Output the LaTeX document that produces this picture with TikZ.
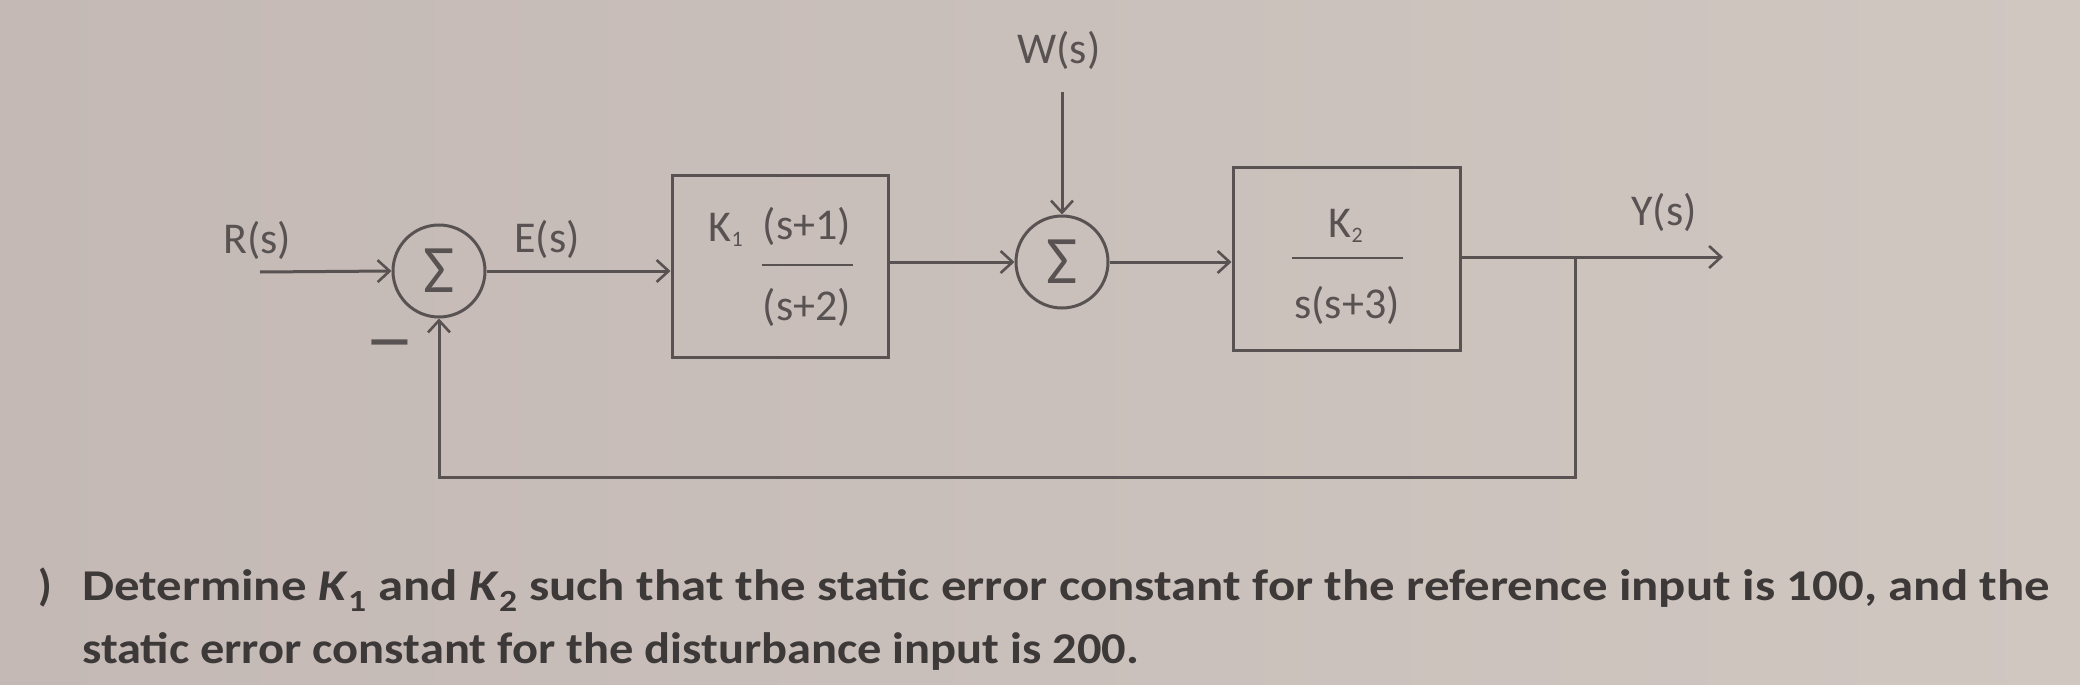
\documentclass[tikz,border=0pt]{standalone}
\usepackage{fontspec}
\usepackage{graphicx}
\setmainfont{Carlito}
\usetikzlibrary{arrows.meta,calc}
\definecolor{bgl}{RGB}{196,185,181}
\definecolor{bgr}{RGB}{208,199,193}
\definecolor{ink}{RGB}{88,83,82}
\definecolor{txt}{RGB}{62,57,57}
\begin{document}
\begin{tikzpicture}[x=1pt,y=-1pt,
  wire/.style={draw=ink,line width=3pt},
  arr/.style={wire,-{Straight Barb[length=12pt,width=22pt,line width=2.6pt]}},
  sumnode/.style={circle,draw=ink,line width=3pt,minimum size=92pt,inner sep=0pt,
     font=\fontsize{68}{70}\selectfont,text=ink},
  blk/.style={rectangle,draw=ink,line width=3pt,inner sep=0pt},
  lab/.style={font=\fontsize{44}{48}\selectfont,text=ink,inner sep=0pt},
  btxt/.style={font=\fontsize{44}{50}\selectfont\bfseries,text=txt,inner sep=0pt,anchor=base west}]
\shade[left color=bgl,right color=bgr] (0,0) rectangle (2080,685);
\useasboundingbox (0,0) rectangle (2080,685);
% summing junctions
\node[sumnode] (s1) at (439,271) {Σ};
\node[sumnode] (s2) at (1062,262) {Σ};
% blocks
\node[blk,minimum width=216pt,minimum height=182pt] (b1) at (780,266) {};
\node[blk,minimum width=227pt,minimum height=183pt] (b2) at (1346.5,258.5) {};
% block texts
\node[lab] (k1) at (726,230) {K\textsubscript{\fontsize{22}{22}\selectfont 1}};
\node[lab] (n1) at (807,226) {(s+1)};
\node[lab] (d1) at (807,307) {(s+2)};
\coordinate (f1a) at (762,265);
\coordinate (f1b) at (853,265);
\draw[wire,line width=2.5pt] (f1a) -- (f1b);
\node[lab] (k2) at (1346,226) {K\textsubscript{\fontsize{22}{22}\selectfont 2}};
\node[lab] (d2) at (1347,305) {s(s+3)};
\coordinate (f2a) at (1292,258);
\coordinate (f2b) at (1403,258);
\draw[wire,line width=2.5pt] (f2a) -- (f2b);
% signal labels
\node[lab] (rl) at (257,240) {R(s)};
\node[lab] (el) at (547,239) {E(s)};
\node[lab] (wl) at (1059,50) {W(s)};
\node[lab] (yl) at (1664,212) {Y(s)};
\node[lab,font=\fontsize{60}{62}\selectfont\bfseries] (minus) at (390,350) {\scalebox{1.7}[1]{–}};
% connectors
\coordinate (rin) at (260,272);
\coordinate (win) at (1062,92);
\coordinate (yout) at (1723,257);
\coordinate (br) at (1575,257);
\coordinate (fb) at (1575,477);
\draw[arr] (rin) -- (s1.west);
\draw[arr] (s1.east) -- (s1.east -| b1.west);
\draw[arr] (b1.east |- s2.west) -- (s2.west);
\draw[arr] (win) -- (s2.north);
\draw[arr] (s2.east) -- (s2.east -| b2.west);
\draw[arr] (b2.east |- yout) -- (yout);
\draw[arr] (br) -- (fb) -| (s1.south);
% question text
\node[btxt] (paren) at (38,600) {)};
\node[btxt] (q1) at (82,600) {\resizebox{1968pt}{\height}{Determine \textit{K}\textsubscript{1} and \textit{K}\textsubscript{2} such that the static error constant for the reference input is 100, and the}};
\node[btxt] (q2) at (82,663) {\resizebox{1057pt}{\height}{static error constant for the disturbance input is 200.}};
\end{tikzpicture}
\end{document}
